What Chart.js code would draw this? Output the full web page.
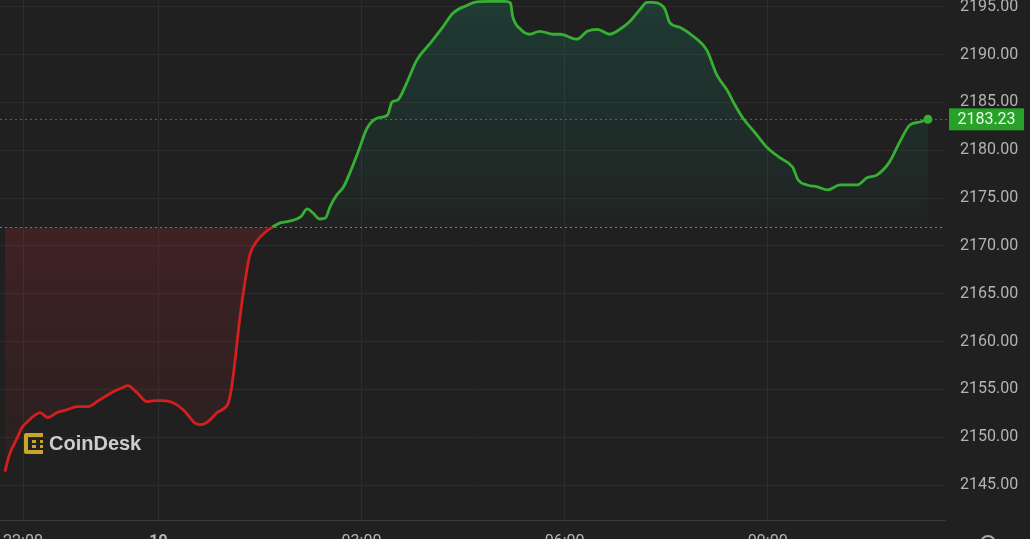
<!DOCTYPE html>
<html>
<head>
<meta charset="utf-8">
<script src="https://cdn.jsdelivr.net/npm/chart.js@4"></script>
<style>
  html, body { margin: 0; padding: 0; background: #202020; width: 1030px; height: 539px; overflow: hidden; }
  #wrap { position: relative; width: 1030px; height: 560px; }
</style>
</head>
<body>
<div id="wrap"><canvas id="eth-chart"></canvas></div>
<script>
// 時刻 (18日 21:44 〜 19日 11:22)
const TIMES = [
  '21:44', '21:48', '21:55', '21:59', '22:04', '22:10', '22:15', '22:22', '22:30', '22:39',
  '22:48', '22:57', '23:08', '23:20', '23:28', '23:33', '23:41', '23:50', '23:57', '00:04',
  '00:13', '00:22', '00:28', '00:32', '00:37', '00:41', '00:46', '00:52', '00:58', '01:02',
  '01:05', '01:08', '01:12', '01:17', '01:21', '01:28', '01:35', '01:41',
  '01:48', '01:57', '02:06', '02:12', '02:17', '02:23', '02:28', '02:32', '02:38', '02:44',
  '02:50', '02:57', '03:05', '03:14', '03:23', '03:27', '03:32', '03:40', '03:49', '04:01',
  '04:12', '04:21', '04:34', '04:42', '04:54', '05:07', '05:12', '05:14', '05:21', '05:29',
  '05:38', '05:50', '05:56', '06:11', '06:20', '06:29', '06:40', '06:49', '06:58', '07:07',
  '07:13', '07:18', '07:25', '07:29', '07:33', '07:42', '07:54', '08:06', '08:15', '08:24',
  '08:31', '08:38', '08:49', '08:59', '09:11', '09:22', '09:27', '09:35', '09:44', '09:53',
  '10:04', '10:19', '10:28', '10:37', '10:48', '10:57', '11:06', '11:15', '11:22',
];

// 価格
const PRICES = [
  2146.41, 2148.18, 2149.96, 2151.00, 2151.63, 2152.25, 2152.57, 2152.05, 2152.57, 2152.88,
  2153.19, 2153.19, 2153.92, 2154.76, 2155.18, 2155.39, 2154.66, 2153.72, 2153.82, 2153.82,
  2153.61, 2152.88, 2152.05, 2151.52, 2151.32, 2151.42, 2151.84, 2152.57, 2152.99, 2153.61,
  2155.28, 2158.10, 2162.28, 2166.45, 2169.06, 2170.62, 2171.45, 2171.97,
  2172.40, 2172.61, 2173.03, 2173.86, 2173.44, 2172.81, 2172.91, 2174.06, 2175.32, 2176.15,
  2177.72, 2179.81, 2182.32, 2183.36, 2183.67, 2185.03, 2185.24, 2187.02, 2189.42, 2191.19,
  2192.86, 2194.32, 2195.16, 2195.50, 2195.55, 2195.55, 2195.40, 2193.99, 2192.64, 2192.12,
  2192.43, 2192.12, 2192.12, 2191.60, 2192.43, 2192.64, 2192.12, 2192.64, 2193.48, 2194.73,
  2195.46, 2195.46, 2195.25, 2194.73, 2193.37, 2192.85, 2191.91, 2190.46, 2187.85, 2186.29,
  2184.72, 2183.37, 2181.80, 2180.34, 2179.19, 2178.25, 2176.89, 2176.37, 2176.17, 2175.85,
  2176.37, 2176.37, 2177.11, 2177.42, 2178.78, 2180.86, 2182.64, 2182.95, 2183.23,
];

// 基準線 (前日終値)
const BASELINE = 2171.95;

// 目盛り
const Y_TICKS = [2145, 2150, 2155, 2160, 2165, 2170, 2175, 2180, 2185, 2190, 2195];
const X_TICK_HOURS = [22, 24, 27, 30, 33];
const X_TICK_LABELS = ['22:00', '19', '03:00', '06:00', '09:00'];

(function () {
  const ctx = document.getElementById('eth-chart');

  const RED = '#d41f1f';
  const GREEN = '#36b033';
  const FONT = 'Roboto';

  // '21:44' -> 18日0時からの時間数
  function toHours(t) {
    const parts = t.split(':').map(Number);
    const h = parts[0] < 12 ? parts[0] + 24 : parts[0];
    return h + parts[1] / 60;
  }

  const points = TIMES.map(function (t, i) { return { x: toHours(t), y: PRICES[i] }; });
  // 基準線を超えた位置で赤と緑に分ける
  const cross = PRICES.findIndex(function (p) { return p >= BASELINE; });
  const redPoints = points.slice(0, cross + 1);
  const greenPoints = points.slice(cross);
  const lastPrice = PRICES[PRICES.length - 1];

  function redFill(context) {
    const chart = context.chart;
    const area = chart.chartArea;
    if (!area || !chart.scales.y) return 'rgba(0,0,0,0)';
    const yb = chart.scales.y.getPixelForValue(BASELINE);
    const g = chart.ctx.createLinearGradient(0, yb, 0, area.bottom);
    g.addColorStop(0, 'rgba(170,40,45,0.24)');
    g.addColorStop(1, 'rgba(170,40,45,0.03)');
    return g;
  }

  function greenFill(context) {
    const chart = context.chart;
    const area = chart.chartArea;
    if (!area || !chart.scales.y) return 'rgba(0,0,0,0)';
    const yb = chart.scales.y.getPixelForValue(BASELINE);
    const g = chart.ctx.createLinearGradient(0, area.top, 0, yb);
    g.addColorStop(0, 'rgba(30,135,110,0.26)');
    g.addColorStop(1, 'rgba(30,135,110,0.04)');
    return g;
  }

  // 軸ラベル分の余白を詰める
  function noPadding(scale) {
    scale.paddingTop = 0;
    scale.paddingBottom = 0;
    scale.paddingLeft = 0;
    scale.paddingRight = 0;
  }

  // 点線・価格ラベル・ロゴ
  const overlay = {
    id: 'overlay',
    beforeDatasetsDraw: function (chart) {
      const c = chart.ctx;
      const area = chart.chartArea;
      const y = chart.scales.y;
      c.save();
      c.lineWidth = 1;
      c.setLineDash([2, 3]);
      c.strokeStyle = '#7c7c7c';
      const yb = Math.round(y.getPixelForValue(BASELINE)) + 0.5;
      c.beginPath(); c.moveTo(area.left, yb); c.lineTo(area.right, yb); c.stroke();
      c.strokeStyle = '#2f7f2f';
      const yl = Math.round(y.getPixelForValue(lastPrice)) + 0.5;
      c.beginPath(); c.moveTo(area.left, yl); c.lineTo(area.right + 4, yl); c.stroke();
      c.restore();
    },
    afterDraw: function (chart) {
      const c = chart.ctx;
      const area = chart.chartArea;
      const yl = chart.scales.y.getPixelForValue(lastPrice);
      c.save();
      // 現在値ラベル
      c.fillStyle = '#27a127';
      c.fillRect(area.right + 4, yl - 11, 75, 22);
      c.fillStyle = '#eafbe6';
      c.font = '16px ' + FONT;
      c.textAlign = 'center';
      c.textBaseline = 'middle';
      c.fillText(lastPrice.toFixed(2), area.right + 41.5, yl + 1);

      // CoinDesk ロゴ
      c.strokeStyle = '#c9a42a';
      c.lineWidth = 4;
      c.lineJoin = 'round';
      c.beginPath();
      c.moveTo(43, 435); c.lineTo(26, 435); c.lineTo(26, 452); c.lineTo(43, 452);
      c.stroke();
      c.fillStyle = '#c9a42a';
      c.fillRect(32, 440, 4, 3);
      c.fillRect(32, 445, 4, 3);
      c.fillRect(40, 440, 3, 3);
      c.fillRect(40, 445, 3, 3);
      c.fillStyle = '#cdcdcd';
      c.font = 'bold 20px "Liberation Sans"';
      c.textAlign = 'left';
      c.textBaseline = 'alphabetic';
      c.fillText('CoinDesk', 49, 450);

      // 右下のアイコン
      c.strokeStyle = '#a8a8a8';
      c.lineWidth = 2;
      c.beginPath();
      c.arc(988, 543, 7, 0, Math.PI * 2);
      c.stroke();
      c.restore();
    },
  };

  new Chart(ctx, {
    type: 'line',
    data: {
      datasets: [
        {
          data: redPoints,
          borderColor: RED,
          borderWidth: 2.8,
          backgroundColor: redFill,
          fill: { target: { value: BASELINE } },
          pointRadius: 0,
          cubicInterpolationMode: 'monotone',
        },
        {
          data: greenPoints,
          borderColor: GREEN,
          borderWidth: 2.8,
          backgroundColor: greenFill,
          fill: { target: { value: BASELINE } },
          pointRadius: function (c) { return c.dataIndex === greenPoints.length - 1 ? 4.5 : 0; },
          pointBackgroundColor: GREEN,
          pointBorderWidth: 0,
          cubicInterpolationMode: 'monotone',
        },
      ],
    },
    options: {
      responsive: true,
      maintainAspectRatio: false,
      animation: false,
      layout: { padding: 0, autoPadding: false },
      plugins: {
        legend: { display: false },
        tooltip: { enabled: false },
      },
      scales: {
        x: {
          type: 'linear',
          min: 22 - 23 / 67.7,
          max: 22 + 922 / 67.7,
          afterBuildTicks: function (scale) {
            scale.ticks = X_TICK_HOURS.map(function (v) { return { value: v }; });
          },
          afterFit: function (scale) {
            scale.height = 40;
            noPadding(scale);
          },
          grid: { color: '#2c2c2c', drawTicks: false },
          border: { color: '#3a3a3a' },
          ticks: {
            autoSkip: false,
            maxRotation: 0,
            padding: 12,
            color: '#b4b4b4',
            font: function (c) {
              return { family: FONT, size: 16, weight: c.tick && c.tick.value === 24 ? 'bold' : 'normal' };
            },
            callback: function (v) {
              const i = X_TICK_HOURS.indexOf(v);
              return i >= 0 ? X_TICK_LABELS[i] : '';
            },
          },
        },
        y: {
          position: 'right',
          min: 2141.35,
          max: 2195.7,
          afterBuildTicks: function (scale) {
            scale.ticks = Y_TICKS.map(function (v) { return { value: v }; });
          },
          afterFit: function (scale) {
            scale.width = 85;
            noPadding(scale);
          },
          grid: { color: '#2c2c2c', drawTicks: false },
          border: { display: false },
          ticks: {
            padding: 15,
            color: '#b4b4b4',
            font: { family: FONT, size: 16 },
            callback: function (v) { return Number(v).toFixed(2); },
          },
        },
      },
    },
    plugins: [overlay],
  });
})();
</script>
</body>
</html>
